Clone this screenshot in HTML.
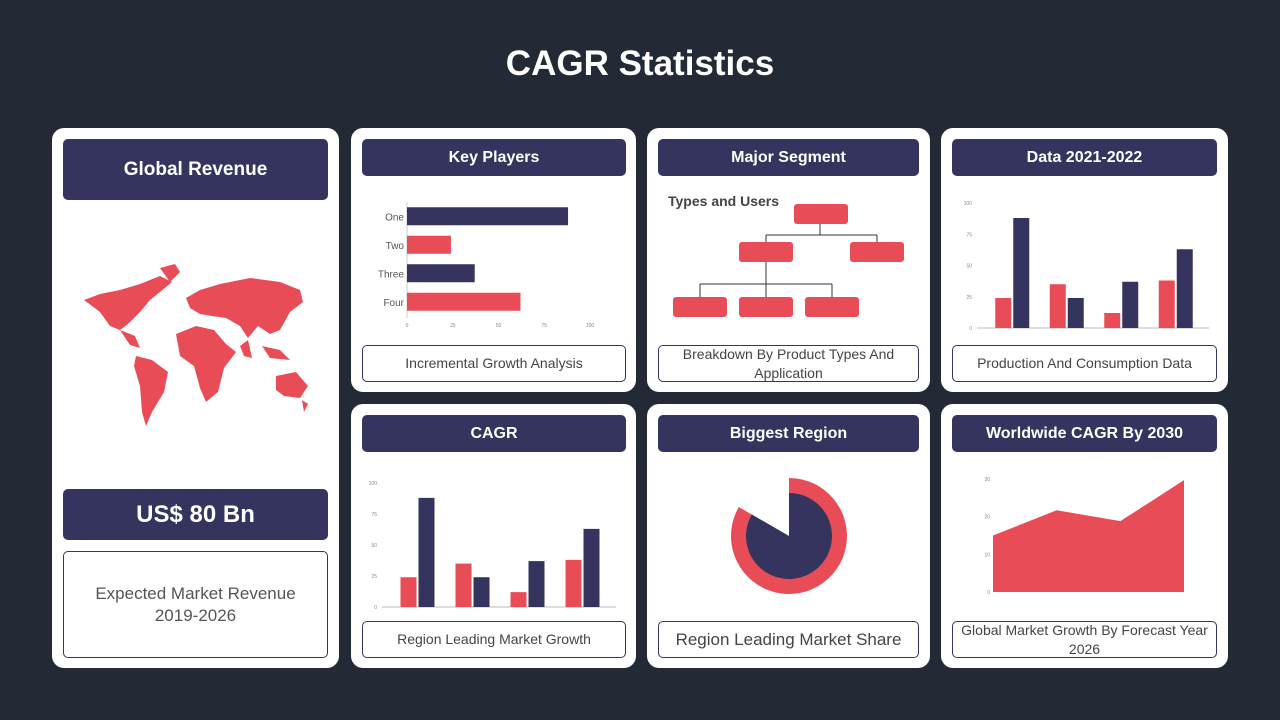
<!DOCTYPE html>
<html><head><meta charset="utf-8"><style>
body{margin:0;width:1280px;height:720px;background:#232a35;font-family:"Liberation Sans",sans-serif;position:relative;overflow:hidden}
.abs{position:absolute}
.card{position:absolute;background:#fff;border-radius:12px}
.hdr{position:absolute;background:#34345f;color:#fff;font-weight:bold;border-radius:5px;display:flex;align-items:center;justify-content:center;font-size:16px}
.ftr{position:absolute;border:1.5px solid #34345f;border-radius:5px;box-sizing:border-box;color:#444;display:flex;align-items:center;justify-content:center;text-align:center;font-size:14px;line-height:19px}
svg{position:absolute;left:0;top:0}
</style></head><body>
<div class="abs" style="left:0;width:1280px;top:44px;text-align:center;color:#fff;font-size:35px;font-weight:bold">CAGR Statistics</div>

<div class="card" style="left:52px;top:128px;width:287px;height:540px"></div>
<div class="card" style="left:351px;top:128px;width:285px;height:264px"></div>
<div class="card" style="left:647px;top:128px;width:283px;height:264px"></div>
<div class="card" style="left:941px;top:128px;width:287px;height:264px"></div>
<div class="card" style="left:351px;top:404px;width:285px;height:264px"></div>
<div class="card" style="left:647px;top:404px;width:283px;height:264px"></div>
<div class="card" style="left:941px;top:404px;width:287px;height:264px"></div>

<div class="hdr" style="left:63px;top:139px;width:265px;height:61px;font-size:19px">Global Revenue</div>
<div class="hdr" style="left:63px;top:489px;width:265px;height:51px;font-size:24px">US$ 80 Bn</div>
<div class="ftr" style="left:63px;top:551px;width:265px;height:107px;font-size:17px;line-height:22px;color:#555">Expected Market Revenue<br>2019-2026</div>

<div class="hdr" style="left:362px;top:139px;width:264px;height:37px">Key Players</div>
<div class="hdr" style="left:658px;top:139px;width:261px;height:37px">Major Segment</div>
<div class="hdr" style="left:952px;top:139px;width:265px;height:37px">Data 2021-2022</div>
<div class="hdr" style="left:362px;top:415px;width:264px;height:37px">CAGR</div>
<div class="hdr" style="left:658px;top:415px;width:261px;height:37px">Biggest Region</div>
<div class="hdr" style="left:952px;top:415px;width:265px;height:37px">Worldwide CAGR By 2030</div>

<div class="ftr" style="left:362px;top:345px;width:264px;height:37px">Incremental Growth Analysis</div>
<div class="ftr" style="left:658px;top:345px;width:261px;height:37px">Breakdown By Product Types And Application</div>
<div class="ftr" style="left:952px;top:345px;width:265px;height:37px">Production And Consumption Data</div>
<div class="ftr" style="left:362px;top:621px;width:264px;height:37px">Region Leading Market Growth</div>
<div class="ftr" style="left:658px;top:621px;width:261px;height:37px;font-size:17px">Region Leading Market Share</div>
<div class="ftr" style="left:952px;top:621px;width:265px;height:37px">Global Market Growth By Forecast Year 2026</div>

<div class="abs" style="left:668px;top:193px;font-size:14px;font-weight:bold;color:#444">Types and Users</div>

<svg width="1280" height="720" id="s">
<g fill="#e84d57">
<path d="M84,300 L100,294 L120,290 L140,284 L160,276 L172,282 L160,292 L150,300 L140,312 L128,324 L120,330 L110,326 L100,312 L92,306Z"/>
<path d="M160,268 L175,264 L180,272 L170,282Z"/>
<path d="M120,330 L135,336 L140,348 L130,345Z"/>
<path d="M136,356 L152,360 L168,372 L164,392 L152,412 L146,426 L142,412 L140,386 L134,366Z"/>
<path d="M186,298 L200,290 L220,284 L250,278 L280,282 L300,290 L303,302 L290,312 L280,330 L270,334 L258,326 L248,338 L240,326 L226,318 L212,316 L200,314 L190,308Z"/>
<path d="M176,334 L196,326 L214,330 L226,344 L236,352 L224,368 L218,392 L206,402 L200,388 L194,366 L180,356Z"/>
<path d="M240,346 L248,340 L252,358 L244,356Z"/>
<path d="M262,346 L280,350 L290,360 L270,358Z"/>
<path d="M276,376 L296,372 L308,386 L300,398 L284,396 L276,390Z"/>
<path d="M302,400 L308,404 L304,412Z"/>
</g>
</svg>
<script>
var ns="http://www.w3.org/2000/svg",S=document.getElementById('s');
var RED="#e84d57",NAVY="#34345f";
function el(t,a,p){var e=document.createElementNS(ns,t);for(var k in a)e.setAttribute(k,a[k]);(p||S).appendChild(e);return e;}
function txt(x,y,s,sz,anc,fill){var t=el('text',{x:x,y:y,'font-size':sz,'text-anchor':anc||'middle',fill:fill||'#666','font-family':'Liberation Sans, sans-serif'});t.textContent=s;return t;}

// Key players data
var kpCategories=["One","Two","Three","Four"];
var kpValues=[88,24,37,62];
var kpColors=[NAVY,RED,NAVY,RED];
var kpTicks=[0,25,50,75,100];
// Grouped bars data (both charts)
var barGroups=["A","B","C","D"];
var seriesRed=[24,35,12,38];
var seriesNavy=[88,24,37,63];
var barTicks=[0,25,50,75,100];
// Area data
var areaValues=[15,21.7,18.8,29.7];
var areaTicks=[0,10,20,30];
// Donut data
var donutShare=[300];

// Key players
(function(){
 var x0=407,x1=590,y0=202,band=28.5;
 function X(v){return x0+(x1-x0)*v/100;}
 el('line',{x1:x0,y1:y0,x2:x0,y2:318,stroke:'#ccc','stroke-width':1});
 kpCategories.forEach(function(c,i){
  var cy=y0+band*(i+0.5);
  var r=el('rect',{x:x0,y:cy-9,width:X(kpValues[i])-x0,height:18,fill:kpColors[i]});
  
  
  txt(x0-3,cy+4,c,10,'end','#555');
 });
 kpTicks.forEach(function(t){txt(X(t),327,t,5,'middle','#888');});
})();

// grouped bars
function grouped(x0,x1,base,top,prefix){
 function Y(v){return base-(base-top)*v/100;}
 el('line',{x1:x0-8,y1:base,x2:x1+6,y2:base,stroke:'#bbb','stroke-width':1});
 barTicks.forEach(function(t){txt(x0-13,Y(t)+2,t,5,'end','#888');});
 var gw=(x1-x0)/barGroups.length;
 barGroups.forEach(function(g,i){
  var cx=x0+gw*(i+0.5);
  var a=el('rect',{x:cx-17,y:Y(seriesRed[i]),width:16,height:base-Y(seriesRed[i]),fill:RED});
  
  
  var b=el('rect',{x:cx+1,y:Y(seriesNavy[i]),width:16,height:base-Y(seriesNavy[i]),fill:NAVY});
  
  
 });
}
grouped(985,1203,328,203,'data2021');
grouped(390,610,607,483,'cagr');

// area
(function(){
 var x0=993,x1=1184,base=592,top=479;
 function Y(v){return base-(base-top)*v/30;}
 function X(i){return x0+(x1-x0)*i/(areaValues.length-1);}
 var d='M'+X(0)+','+base;
 areaValues.forEach(function(v,i){d+=' L'+X(i)+','+Y(v);});
 d+=' L'+X(areaValues.length-1)+','+base+'Z';
 var p=el('path',{d:d,fill:RED});
 
 
 areaTicks.forEach(function(t){txt(x0-3,Y(t)+2,t,5,'end','#888');});
})();

// donut
(function(){
 var cx=789,cy=536;
 function wedge(r,deg,fill,name){
  var a=deg*Math.PI/180,x=cx+r*Math.sin(a),y=cy-r*Math.cos(a);
  var p=el('path',{d:'M'+cx+','+cy+' L'+cx+','+(cy-r)+' A'+r+','+r+' 0 '+(deg>180?1:0)+' 1 '+x+','+y+'Z',fill:fill});
  
  
 }
 wedge(58,donutShare[0],RED,'donut-outer-slice');
 wedge(43,donutShare[0],NAVY,'donut-inner-slice');
})();

// org chart
(function(){
 var boxes=[[794,204],[739,242],[850,242],[673,297],[739,297],[805,297]];
 var L=[[820,223,820,235],[766,235,877,235],[766,235,766,242],[877,235,877,242],[766,262,766,284],[700,284,832,284],[700,284,700,297],[766,284,766,297],[832,284,832,297]];
 L.forEach(function(l){el('line',{x1:l[0],y1:l[1],x2:l[2],y2:l[3],stroke:'#333','stroke-width':1});});
 boxes.forEach(function(b,i){
  var r=el('rect',{x:b[0],y:b[1],width:54,height:20,rx:3,fill:RED});
  
  
 });
})();
</script>
</body></html>
